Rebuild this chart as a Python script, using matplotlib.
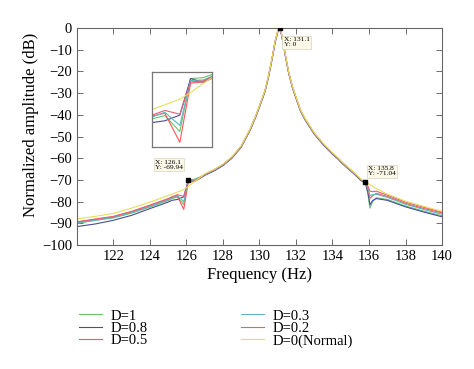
import matplotlib.pyplot as plt

plt.rcParams['font.family'] = ['Liberation Serif', 'DejaVu Serif']
plt.rcParams['axes.unicode_minus'] = True

# frequency grid (Hz)
freq = [120, 121, 122, 123, 124, 125, 125.2, 125.5, 125.85, 126.1, 126.4, 126.7,
        127, 127.5, 128, 128.5, 129, 129.25, 129.5, 129.8, 130, 130.3, 130.5, 130.7,
        130.85, 131.0, 131.1, 131.2, 131.3, 131.45, 131.6, 131.8, 132, 132.25, 132.5,
        133, 133.2, 133.5, 134, 134.3, 134.5, 135, 135.3, 135.57, 135.8,
        135.95, 136.05, 136.2, 136.4, 137, 138, 139, 140]

# shared part around the main resonance (127 .. 135.8 Hz)
mid = [-67.5, -65.5, -63.0, -59.5, -54.5, -50.5, -46.5, -40.5, -36.0, -29.0, -22.0,
       -13.5, -6.5, -1.5, 0.0, -2.5, -7.0, -14.0, -20.5, -27.0, -32.0, -38.0, -42.0,
       -48.5, -50.5, -53.5, -57.8, -60.0, -61.8, -65.5, -67.8, -70.0, -71.0]

d1 = ([-90.0, -88.7, -87.5, -85.3, -82.5, -79.5, -78.6, -77.9, -81.3, -70.0, -69.8, -68.8]
      + [v - 0.2 for v in mid]
      + [-77.0, -83.0, -80.0, -78.2, -79.0, -82.0, -84.4, -86.5])
d08 = ([-91.5, -90.3, -88.6, -86.3, -83.2, -80.2, -79.4, -79.0, -77.8, -70.0, -70.8, -69.5]
       + [v - 0.4 for v in mid]
       + [-76.0, -81.5, -79.5, -78.6, -79.4, -82.4, -84.8, -87.0])
d05 = ([-89.5, -88.2, -87.0, -84.6, -81.8, -78.8, -78.0, -77.4, -83.6, -71.0, -70.7, -69.3]
       + [v for v in mid]
       + [-74.5, -78.5, -77.3, -76.2, -77.6, -80.8, -83.2, -85.2])
d03 = ([-89.8, -88.5, -87.2, -85.0, -82.2, -79.2, -78.2, -77.2, -80.0, -70.4, -70.3, -69.1]
       + [v - 0.1 for v in mid]
       + [-74.0, -77.2, -76.8, -76.6, -78.0, -81.2, -83.6, -85.8])
d02 = ([-89.3, -88.0, -86.8, -84.5, -81.6, -78.6, -77.8, -76.8, -77.6, -70.7, -70.5, -69.2]
       + [v + 0.1 for v in mid]
       + [-73.0, -75.2, -75.4, -75.2, -77.0, -80.2, -82.6, -84.8])
d0 = ([-88.0, -86.8, -85.4, -83.0, -80.2, -77.2, -76.6, -75.6, -74.4, -73.0, -71.0, -69.2]
      + [v + 0.3 for v in mid]
      + [-71.6, -72.2, -72.9, -74.0, -76.5, -79.8, -82.2, -84.5])

series = [d1, d08, d05, d03, d02, d0]
labels = ['D=1', 'D=0.8', 'D=0.5', 'D=0.3', 'D=0.2', 'D=0(Normal)']
colors = ['#6cc26c', '#4a4a9a', '#ff5555', '#5cb8c0', '#e0607a', '#e6df5a']

# data tips
tip_x = [126.1, 131.1, 135.8]
tip_y = [-69.94, 0, -71.04]

fig = plt.figure(figsize=(4.74, 3.69), dpi=100)
ax = fig.add_axes([0.1624, 0.336, 0.7701, 0.588])

for s, lab, c in zip(series, labels, colors):
    ax.plot(freq, s, color=c, lw=0.8, label=lab)

ax.set_xlim(120, 140)
ax.set_ylim(-100, 0)
ax.set_xticks(range(122, 141, 2))
ax.set_yticks(range(-100, 1, 10))
ax.tick_params(direction='in', top=True, right=True, length=4, width=0.6,
               labelsize=10.5, color='#555555')
for sp in ax.spines.values():
    sp.set_color('#666666')
    sp.set_linewidth(0.8)
ax.set_xlabel('Frequency (Hz)', fontsize=12, labelpad=3)
ax.set_ylabel('Normalized amplitude (dB)', fontsize=12)
ax.yaxis.set_label_coords(-0.104, 0.555)

# data tip markers and boxes
ax.plot(tip_x, tip_y, 's', color='black', ms=3.5, zorder=5)
box = dict(boxstyle='square,pad=0.2', fc='#fbf8e8', ec='#d8d4c0', lw=0.5)
offsets = [(-24, 8), (3, -13), (2, 5)]
for x, y, off in zip(tip_x, tip_y, offsets):
    ax.annotate('X: %g\nY: %g' % (x, y), (x, y), xytext=off,
                textcoords='offset points', fontsize=5.3, linespacing=1.0,
                bbox=box, zorder=6)

# inset zoom of the dip near 126 Hz
ins = fig.add_axes([152 / 474, 1 - 147 / 369, 60 / 474, 75 / 369])
for s, c in zip(series, colors):
    ins.plot(freq, s, color=c, lw=0.8)
ins.set_xlim(125.2, 126.6)
ins.set_ylim(-84.6, -68.6)
ins.set_xticks([])
ins.set_yticks([])
for sp in ins.spines.values():
    sp.set_color('#777777')
    sp.set_linewidth(0.9)

fig.legend(loc='upper left', bbox_to_anchor=(72 / 474, 1 - 302 / 369), ncol=2,
           frameon=False, fontsize=10.5, handlelength=1.55, handletextpad=0.6,
           columnspacing=6.4, labelspacing=-0.05, borderpad=0)

fig.savefig('out.png', dpi=100)
